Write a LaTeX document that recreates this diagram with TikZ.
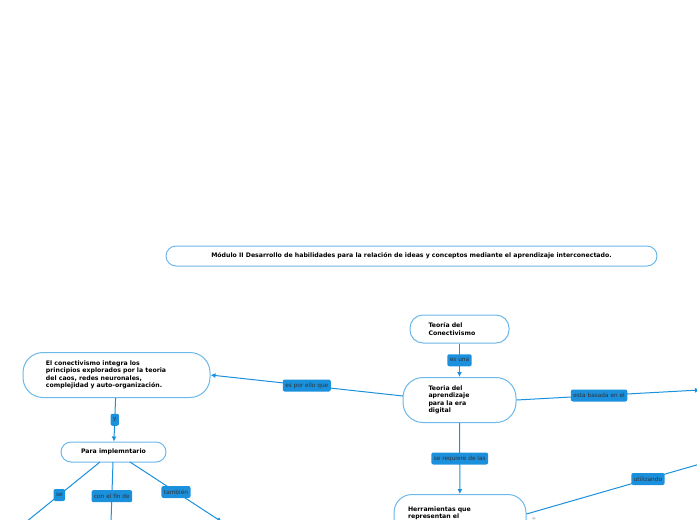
\documentclass[tikz,border=0pt]{standalone}
\usepackage{fontspec}
\setmainfont{DejaVu Sans}
\usetikzlibrary{arrows.meta}
\definecolor{mblue}{HTML}{1B90DD}
\definecolor{lblue}{HTML}{6CB8EA}
\tikzset{
 topic/.style={draw=lblue,line width=1pt,rounded corners=13pt,fill=white,font=\fontsize{6.2}{7.4}\selectfont\bfseries,align=left,inner sep=3pt},
 lab/.style={fill=mblue,rounded corners=2pt,text=black!80,font=\fontsize{5.8}{6.5}\selectfont,inner sep=2.5pt,minimum height=12pt},
 conn/.style={draw=mblue,line width=1pt},
 arr/.style={conn,-{Latex[length=5pt,width=5pt]}}
}
\begin{document}
\begin{tikzpicture}[x=1pt,y=-1pt]
\useasboundingbox (0,0) rectangle (697,520);
\clip (0,0) rectangle (697,520);
\node[topic,minimum width=491pt,minimum height=20pt,rounded corners=10pt,align=center] (title) at (411.5,256) {Módulo II Desarrollo de habilidades para la relación de ideas y conceptos mediante el aprendizaje interconectado.};
\node[topic,minimum width=99pt,minimum height=28pt,text width=82pt] (tc) at (459.5,329) {\hspace*{10pt}Teoría del\\\hspace*{10pt}Conectivismo};
\node[topic,minimum width=113pt,minimum height=45pt,rounded corners=20pt,text width=90pt] (ta) at (459.5,400) {\hspace*{14pt}Teoria del\\\hspace*{14pt}aprendizaje\\\hspace*{14pt}para la era\\\hspace*{14pt}digital};
\node[topic,minimum width=132pt,minimum height=45pt,anchor=north,rounded corners=18pt,text width=112pt] (he) at (460,494) {\hspace*{4pt}Herramientas que\\\hspace*{4pt}representan el\\\hspace*{4pt}conjunto de una};
\node[topic,minimum width=187pt,minimum height=45pt,rounded corners=20pt,text width=165pt] (ec) at (116.5,375) {\hspace*{12pt}El conectivismo integra los\\\hspace*{12pt}principios explorados por la teoria\\\hspace*{12pt}del caos, redes neuronales,\\\hspace*{12pt}complejidad y auto-organización.};
\node[topic,minimum width=105pt,minimum height=20pt,rounded corners=10pt,align=center] (pi) at (113.5,452) {Para implemntario};
\coordinate (rr) at (700,390);
\coordinate (ru) at (700,464);
\coordinate (b1) at (26,522);
\coordinate (b2) at (111,522);
\coordinate (b3) at (222,522);
\draw[arr] (tc) -- node[lab]{es una} (ta);
\draw[arr] (ta) -- node[lab]{se requiere de las} (he);
\draw[arr] (ta.east) -- node[lab,pos=0.45]{esta basada en el} (rr);
\draw[conn] ([yshift=3pt]he.east) -- node[lab,pos=0.7]{utilizando} (ru);
\draw[arr] (403,396) -- node[lab,pos=0.5]{es por ello que} (ec.east);
\draw[arr] (ec) -- node[lab]{y} (pi);
\draw[conn] (100,462) -- node[lab,pos=0.55]{se} (b1);
\draw[conn] (113,462) -- node[lab,pos=0.57]{con el fin de} (b2);
\draw[arr] (130,462) -- node[lab,pos=0.5]{también} (b3);
\node[font=\fontsize{5}{5}\selectfont,text=gray] (eq) at (534,519) {=};
\end{tikzpicture}
\end{document}
